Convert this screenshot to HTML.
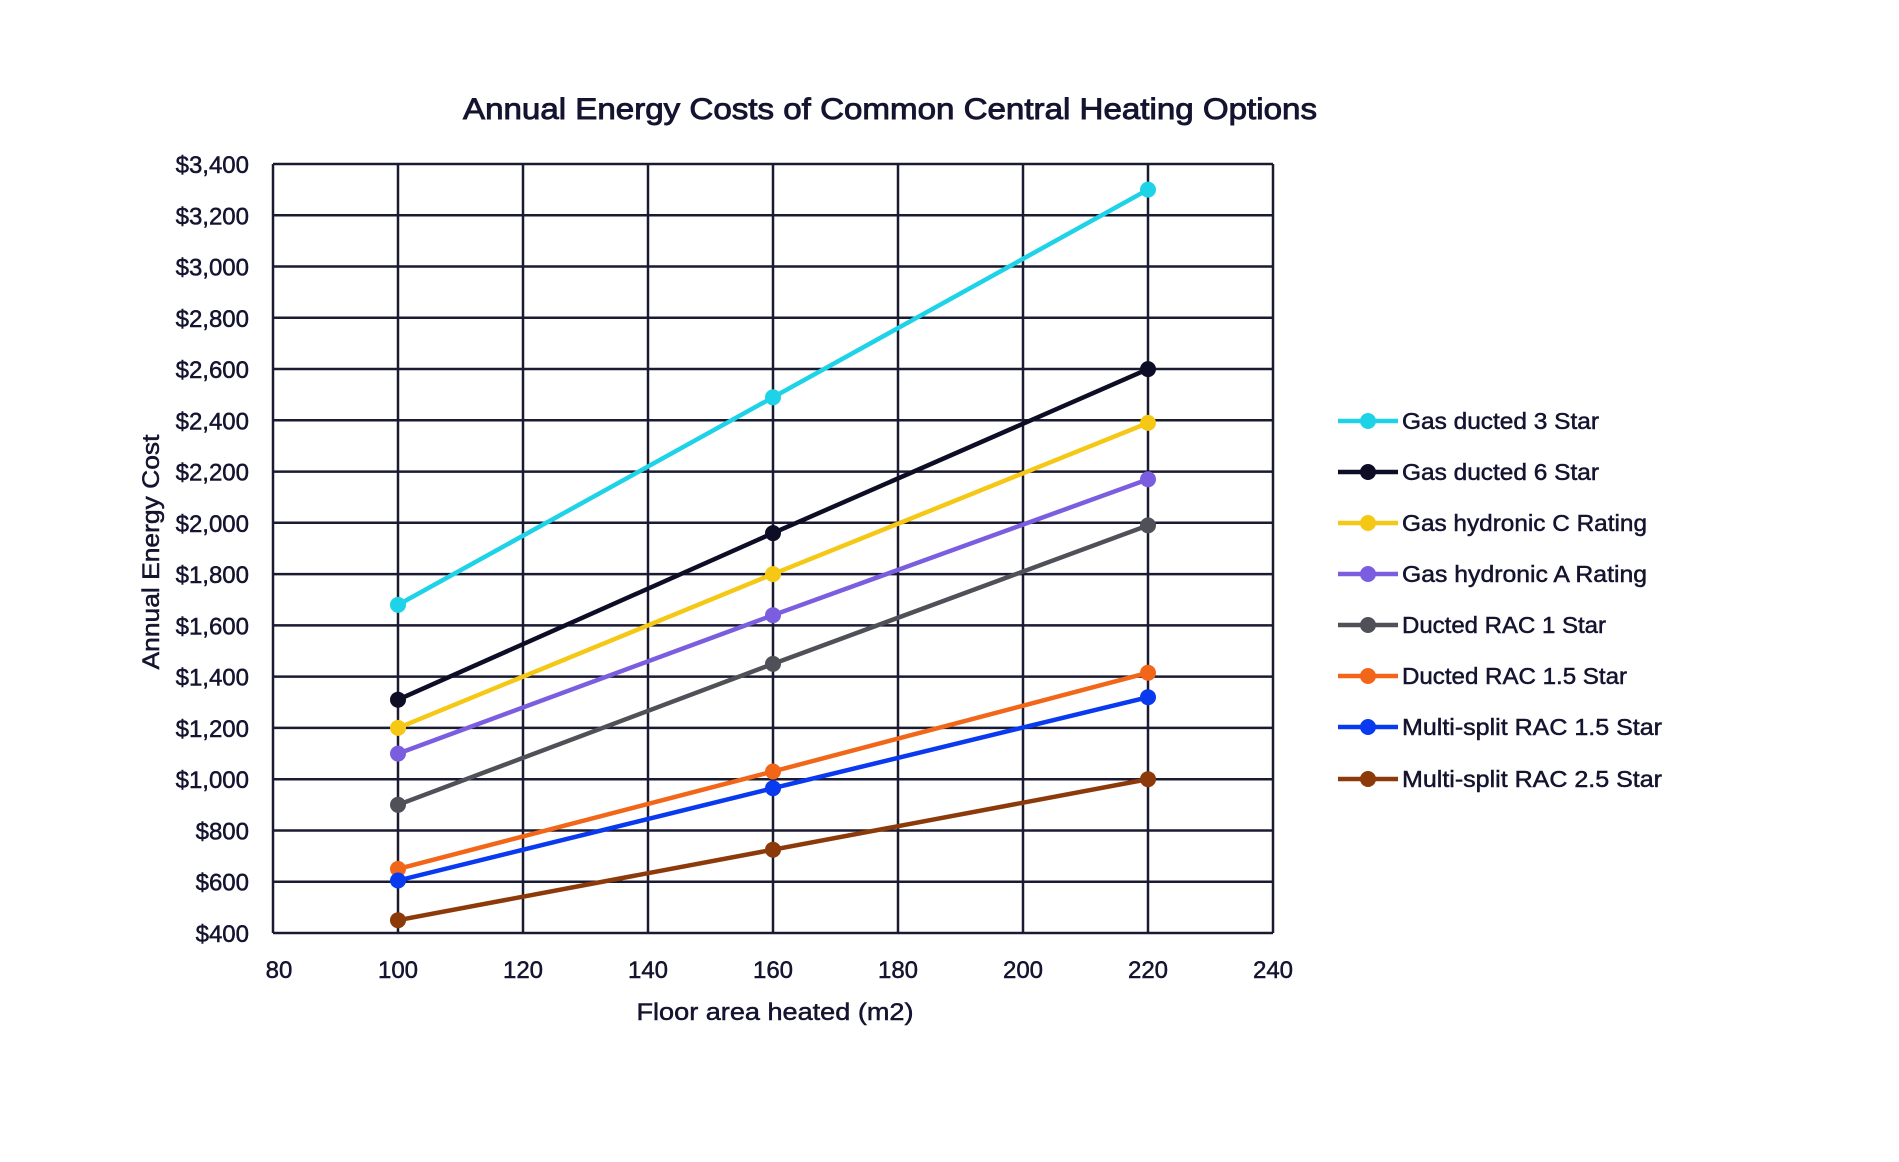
<!DOCTYPE html>
<html><head><meta charset="utf-8"><style>
html,body{margin:0;padding:0;background:#fff;}
svg{display:block;font-family:"Liberation Sans",sans-serif;}
</style></head><body>
<svg width="1899" height="1162" viewBox="0 0 1899 1162">
<rect width="1899" height="1162" fill="#fff"/>
<text x="890" y="119" text-anchor="middle" font-size="30" fill="#141430" stroke="#141430" stroke-width="0.9" textLength="854" lengthAdjust="spacingAndGlyphs">Annual Energy Costs of Common Central Heating Options</text>
<g stroke="#1a1a30" stroke-width="2.5">
<line x1="273" y1="933" x2="1273" y2="933"/><line x1="273" y1="881.7" x2="1273" y2="881.7"/><line x1="273" y1="830.5" x2="1273" y2="830.5"/><line x1="273" y1="779.2" x2="1273" y2="779.2"/><line x1="273" y1="727.9" x2="1273" y2="727.9"/><line x1="273" y1="676.6" x2="1273" y2="676.6"/><line x1="273" y1="625.4" x2="1273" y2="625.4"/><line x1="273" y1="574.1" x2="1273" y2="574.1"/><line x1="273" y1="522.8" x2="1273" y2="522.8"/><line x1="273" y1="471.6" x2="1273" y2="471.6"/><line x1="273" y1="420.3" x2="1273" y2="420.3"/><line x1="273" y1="369" x2="1273" y2="369"/><line x1="273" y1="317.8" x2="1273" y2="317.8"/><line x1="273" y1="266.5" x2="1273" y2="266.5"/><line x1="273" y1="215.3" x2="1273" y2="215.3"/><line x1="273" y1="164" x2="1273" y2="164"/>
<line x1="273" y1="164" x2="273" y2="933"/><line x1="398" y1="164" x2="398" y2="933"/><line x1="523" y1="164" x2="523" y2="933"/><line x1="648" y1="164" x2="648" y2="933"/><line x1="773" y1="164" x2="773" y2="933"/><line x1="898" y1="164" x2="898" y2="933"/><line x1="1023" y1="164" x2="1023" y2="933"/><line x1="1148" y1="164" x2="1148" y2="933"/><line x1="1273" y1="164" x2="1273" y2="933"/>
</g>
<g font-size="24" fill="#141430" stroke="#141430" stroke-width="0.5" text-anchor="end">
<text x="249" y="942">$400</text><text x="249" y="890.7">$600</text><text x="249" y="839.5">$800</text><text x="249" y="788.2">$1,000</text><text x="249" y="736.9">$1,200</text><text x="249" y="685.6">$1,400</text><text x="249" y="634.4">$1,600</text><text x="249" y="583.1">$1,800</text><text x="249" y="531.8">$2,000</text><text x="249" y="480.6">$2,200</text><text x="249" y="429.3">$2,400</text><text x="249" y="378">$2,600</text><text x="249" y="326.8">$2,800</text><text x="249" y="275.5">$3,000</text><text x="249" y="224.3">$3,200</text><text x="249" y="173">$3,400</text>
</g>
<g font-size="24" fill="#141430" stroke="#141430" stroke-width="0.5" text-anchor="middle">
<text x="279" y="978">80</text><text x="398" y="978">100</text><text x="523" y="978">120</text><text x="648" y="978">140</text><text x="773" y="978">160</text><text x="898" y="978">180</text><text x="1023" y="978">200</text><text x="1148" y="978">220</text><text x="1273" y="978">240</text>
<text x="775" y="1020" textLength="277" lengthAdjust="spacingAndGlyphs">Floor area heated (m2)</text>
<text transform="translate(159,552) rotate(-90)" textLength="235" lengthAdjust="spacingAndGlyphs">Annual Energy Cost</text>
</g>
<g stroke-width="4.5" fill="none">
<polyline stroke="#1ed3e8" points="398,604.9 773,397.3 1148,189.6"/>
<polyline stroke="#0d0d26" points="398,699.7 773,533.1 1148,369.1"/>
<polyline stroke="#f5c816" points="398,727.9 773,574.1 1148,422.9"/>
<polyline stroke="#7b5de0" points="398,753.6 773,615.2 1148,479.3"/>
<polyline stroke="#505058" points="398,804.8 773,663.9 1148,525.4"/>
<polyline stroke="#f2661a" points="398,868.9 773,771.5 1148,672.8"/>
<polyline stroke="#0a3af0" points="398,880.5 773,788.2 1148,697.2"/>
<polyline stroke="#8c3a0a" points="398,920.2 773,849.7 1148,779.2"/>
</g>
<g>
<g fill="#1ed3e8"><circle cx="398" cy="604.9" r="8"/><circle cx="773" cy="397.3" r="8"/><circle cx="1148" cy="189.6" r="8"/></g>
<g fill="#0d0d26"><circle cx="398" cy="699.7" r="8"/><circle cx="773" cy="533.1" r="8"/><circle cx="1148" cy="369.1" r="8"/></g>
<g fill="#f5c816"><circle cx="398" cy="727.9" r="8"/><circle cx="773" cy="574.1" r="8"/><circle cx="1148" cy="422.9" r="8"/></g>
<g fill="#7b5de0"><circle cx="398" cy="753.6" r="8"/><circle cx="773" cy="615.2" r="8"/><circle cx="1148" cy="479.3" r="8"/></g>
<g fill="#505058"><circle cx="398" cy="804.8" r="8"/><circle cx="773" cy="663.9" r="8"/><circle cx="1148" cy="525.4" r="8"/></g>
<g fill="#f2661a"><circle cx="398" cy="868.9" r="8"/><circle cx="773" cy="771.5" r="8"/><circle cx="1148" cy="672.8" r="8"/></g>
<g fill="#0a3af0"><circle cx="398" cy="880.5" r="8"/><circle cx="773" cy="788.2" r="8"/><circle cx="1148" cy="697.2" r="8"/></g>
<g fill="#8c3a0a"><circle cx="398" cy="920.2" r="8"/><circle cx="773" cy="849.7" r="8"/><circle cx="1148" cy="779.2" r="8"/></g>
</g>
<g font-size="23" fill="#141430">
<g><line x1="1338" y1="421" x2="1398" y2="421" stroke="#1ed3e8" stroke-width="4.5"/><circle cx="1368" cy="421" r="8" fill="#1ed3e8"/><text x="1402" y="429" stroke="#141430" stroke-width="0.5" textLength="197" lengthAdjust="spacingAndGlyphs">Gas ducted 3 Star</text></g>
<g><line x1="1338" y1="472" x2="1398" y2="472" stroke="#0d0d26" stroke-width="4.5"/><circle cx="1368" cy="472" r="8" fill="#0d0d26"/><text x="1402" y="480" stroke="#141430" stroke-width="0.5" textLength="197" lengthAdjust="spacingAndGlyphs">Gas ducted 6 Star</text></g>
<g><line x1="1338" y1="523" x2="1398" y2="523" stroke="#f5c816" stroke-width="4.5"/><circle cx="1368" cy="523" r="8" fill="#f5c816"/><text x="1402" y="531" stroke="#141430" stroke-width="0.5" textLength="245" lengthAdjust="spacingAndGlyphs">Gas hydronic C Rating</text></g>
<g><line x1="1338" y1="574" x2="1398" y2="574" stroke="#7b5de0" stroke-width="4.5"/><circle cx="1368" cy="574" r="8" fill="#7b5de0"/><text x="1402" y="582" stroke="#141430" stroke-width="0.5" textLength="245" lengthAdjust="spacingAndGlyphs">Gas hydronic A Rating</text></g>
<g><line x1="1338" y1="625" x2="1398" y2="625" stroke="#505058" stroke-width="4.5"/><circle cx="1368" cy="625" r="8" fill="#505058"/><text x="1402" y="633" stroke="#141430" stroke-width="0.5" textLength="204" lengthAdjust="spacingAndGlyphs">Ducted RAC 1 Star</text></g>
<g><line x1="1338" y1="676" x2="1398" y2="676" stroke="#f2661a" stroke-width="4.5"/><circle cx="1368" cy="676" r="8" fill="#f2661a"/><text x="1402" y="684" stroke="#141430" stroke-width="0.5" textLength="225" lengthAdjust="spacingAndGlyphs">Ducted RAC 1.5 Star</text></g>
<g><line x1="1338" y1="727" x2="1398" y2="727" stroke="#0a3af0" stroke-width="4.5"/><circle cx="1368" cy="727" r="8" fill="#0a3af0"/><text x="1402" y="735" stroke="#141430" stroke-width="0.5" textLength="260" lengthAdjust="spacingAndGlyphs">Multi-split RAC 1.5 Star</text></g>
<g><line x1="1338" y1="779" x2="1398" y2="779" stroke="#8c3a0a" stroke-width="4.5"/><circle cx="1368" cy="779" r="8" fill="#8c3a0a"/><text x="1402" y="787" stroke="#141430" stroke-width="0.5" textLength="260" lengthAdjust="spacingAndGlyphs">Multi-split RAC 2.5 Star</text></g>
</g>
</svg>
</body></html>
